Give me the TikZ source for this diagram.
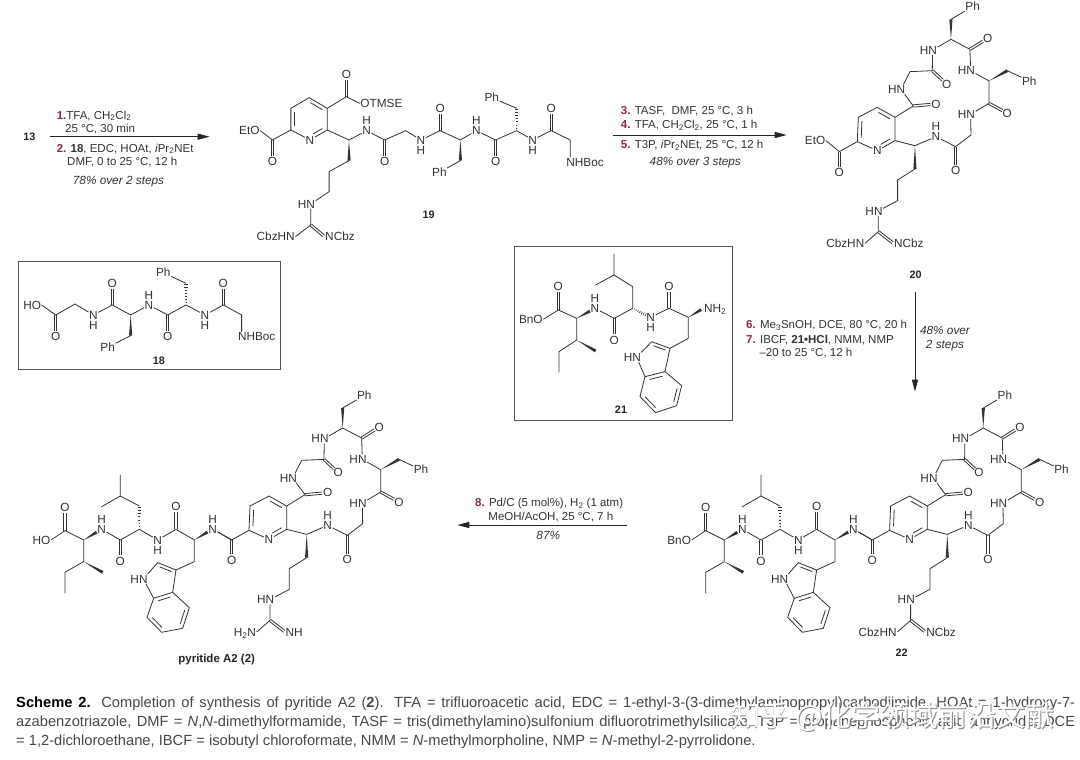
\documentclass[tikz,border=0pt]{standalone}
\usepackage{fontspec}
\setmainfont{Liberation Sans}
\newfontfamily\cjk{Noto Sans CJK SC}
\usepackage{tikz}
\usetikzlibrary{arrows.meta}
\usetikzlibrary{calc}
\definecolor{bondcol}{HTML}{333333}
\definecolor{boxcol}{HTML}{555555}
\definecolor{stepcol}{HTML}{8A2B4B}
\definecolor{capcol}{HTML}{484848}
\tikzstyle{bond} = [draw=bondcol, line width=0.8pt]
\tikzstyle{atom} = [font=\fontsize{11.8}{13}\selectfont, text=bondcol, inner sep=0.5pt, text height=8.4pt, text depth=0pt]
\tikzstyle{molname} = [font=\fontsize{10.8}{12}\selectfont\bfseries, text=black!85]
\tikzstyle{cond} = [font=\fontsize{11.5}{13}\selectfont, text=bondcol, inner sep=0pt, text height=8.2pt, text depth=0pt]
\tikzstyle{condit} = [cond, font=\fontsize{11.8}{13}\selectfont\itshape]
\tikzstyle{rxnarrow} = [draw=black!85, line width=0.9pt, -{Triangle[length=12pt,width=6pt]}]
\tikzstyle{frame} = [draw=boxcol, line width=1pt]
\tikzstyle{captext} = [font=\fontsize{14.7}{16}\selectfont, text=capcol, inner sep=0pt, anchor=west]
\newcommand{\stepno}[1]{{\color{stepcol}\textbf{#1}}}
% wedge: narrow at #2, wide at a fraction #1 of the way to #3
\newcommand{\wedgeb}[3][1]{\fill[bondcol] (#2) -- ($($(#2)!#1!(#3)$)!1.6pt!90:(#2)$) -- ($($(#2)!#1!(#3)$)!1.6pt!-90:(#2)$) -- cycle;}
\newcommand{\hashb}[3][1]{\foreach \hh in {0.12,0.26,...,0.96}{
	\pgfmathsetmacro{\hw}{0.3+1.5*\hh}
	\coordinate (hp) at ($(#2)!\hh*#1!(#3)$);
	\draw[bondcol, line width=0.6pt] ($(hp)!\hw pt!90:(#3)$) -- ($(hp)!\hw pt!-90:(#3)$);
}}
% two parallel lines from #2 up to a gap #1 before #3
\newcommand{\dblb}[3][5.6pt]{
	\coordinate (dbe) at ($(#3)!#1!(#2)$);
	\draw[bond] ($(#2)!1.15pt!90:(dbe)$) -- ($(dbe)!1.15pt!-90:(#2)$);
	\draw[bond] ($(#2)!1.15pt!-90:(dbe)$) -- ($(dbe)!1.15pt!90:(#2)$);
}
% inner line of a ring double bond, pulled towards the ring centre #4
\newcommand{\innerb}[4][1.5pt]{\draw[bond, shorten <=#1, shorten >=1.5pt] ($(#2)!0.2!(#4)$) -- ($(#3)!0.2!(#4)$);}
% N with its H on the left, above or below
\newcommand{\nhl}[3]{\node[atom] (#1) at (#2,#3) {N}; \node[atom] (#1h) at ([xshift=-8.6pt]#1) {H};}
\newcommand{\nhu}[3]{\node[atom] (#1) at (#2,#3) {N}; \node[atom] (#1h) at ([yshift=10pt]#1) {H};}
\newcommand{\nhd}[3]{\node[atom] (#1) at (#2,#3) {N}; \node[atom] (#1h) at ([yshift=-10pt]#1) {H};}
% ------------------- Pyridine + macrocycle + side chain ------------------- %
\newcommand{\cyclocore}[5]{
	\begin{scope}[shift={(#2,#3)}, x=0.3333pt, y=-0.3333pt, name prefix=#1-]
	\coordinate (c3) at (885,352);
	\coordinate (c2) at (885,422);
	\node[atom] (n) at (832,452) {N};
	\coordinate (c6) at (772,425);
	\coordinate (c5) at (775,352);
	\coordinate (c4) at (832,322);
	\coordinate (rc) at (830,387);
	\draw[bond] (c2) -- (c3) -- (c4) -- (c5) -- (c6) -- (n) -- (c2);
	\innerb{c3}{c4}{rc}
	\innerb{c5}{c6}{rc}
	\innerb[4pt]{n}{c2}{rc}

	\coordinate (am) at (940,318);
	\node[atom] (oa) at (1008,312) {O};
	\nhl{n1}{903}{268}
	\coordinate (ca) at (930,215);
	\coordinate (cb) at (997,212);
	\node[atom] (ob) at (1040,252) {O};
	\nhl{n2}{998}{150}
	\coordinate (ab) at (1053,118);
	\coordinate (pb) at (1053,58);
	\node[atom] (phb) at (1118,20) {Ph};
	\coordinate (cc) at (1110,148);
	\node[atom] (oc) at (1163,115) {O};
	\nhl{n3}{1112}{212}
	\coordinate (ac) at (1167,243);
	\coordinate (pc) at (1222,212);
	\node[atom] (phc) at (1288,243) {Ph};
	\coordinate (cd) at (1167,310);
	\node[atom] (od) at (1222,340) {O};
	\nhl{n4}{1112}{343}
	\coordinate (ce) at (1113,405);
	\coordinate (cf) at (1067,440);
	\node[atom] (of) at (1067,512) {O};
	\nhu{n5}{1008}{410}
	\coordinate (ad) at (945,437);
	\draw[bond] (c3) -- (am) -- (n1) -- (ca) -- (cb) -- (n2) -- (ab) -- (cc) -- (n3) -- (ac) -- (cd) -- (n4) -- (ce) -- (cf) -- (n5) -- (ad) -- (c2);
	\dblb{am}{oa}
	\dblb{cb}{ob}
	\dblb{cc}{oc}
	\dblb{cd}{od}
	\dblb{cf}{of}
	\wedgeb{ab}{pb}
	\draw[bond] (pb) -- (phb);
	\wedgeb{ac}{pc}
	\draw[bond] (pc) -- (phc);

	\coordinate (s1) at (945,507);
	\coordinate (s2) at (893,540);
	\coordinate (s3) at (893,602);
	\nhl{n6}{835}{633}
	\coordinate (gc) at (835,695);
	\node[atom, anchor=east] (gl) at (795,730) {#4};
	\node[atom, anchor=west] (gr) at (880,730) {#5};
	\wedgeb{ad}{s1}
	\draw[bond] (s1) -- (s2) -- (s3) -- (n6) -- (gc) -- (gl.east);
	\dblb[1pt]{gc}{gr.west}
	\end{scope}
}
% ------------------- Ile-Leu-Trp arm ------------------- %
\newcommand{\lefttail}[4]{
	\begin{scope}[shift={(#2,#3)}, x=0.3333pt, y=-0.3333pt, name prefix=#1-]
	\coordinate (ec) at (197,452);
	\node[atom] (eo) at (197,382) {O};
	\node[atom, anchor=east] (lo) at (155,480) {#4};
	\coordinate (a1) at (253,480);
	\nhu{ln1}{307}{448}
	\coordinate (be) at (253,545);
	\coordinate (me) at (310,577);
	\coordinate (et) at (197,577);
	\coordinate (ch) at (197,640);
	\coordinate (lc1) at (363,480);
	\node[atom] (lo1) at (363,543) {O};
	\coordinate (a2) at (420,448);
	\coordinate (lb) at (420,378);
	\coordinate (lc) at (363,348);
	\coordinate (lm1) at (363,285);
	\coordinate (lm2) at (307,380);
	\nhd{ln2}{475}{480}
	\coordinate (lc2) at (530,448);
	\node[atom] (lo2) at (530,380) {O};
	\coordinate (a3) at (585,480);
	\nhu{ln3}{640}{447}
	\coordinate (tb) at (585,545);
	\coordinate (i3) at (530,570);
	\coordinate (i2) at (475,548);
	\nhl{ni}{432}{597}
	\coordinate (i7a) at (463,655);
	\coordinate (i3a) at (520,637);
	\coordinate (i4) at (570,683);
	\coordinate (i5) at (550,745);
	\coordinate (i6) at (487,757);
	\coordinate (i7) at (443,712);
	\coordinate (ir5) at (484,603);
	\coordinate (ir6) at (507,700);
	\coordinate (amc) at (697,480);
	\node[atom] (amo) at (697,540) {O};
	\draw[bond] (lo.east) -- (ec) -- (a1) -- (be) -- (et) -- (ch);
	\dblb{ec}{eo}
	\wedgeb[0.72]{a1}{ln1}
	\wedgeb{be}{me}
	\draw[bond] (ln1) -- (lc1) -- (a2) -- (ln2) -- (lc2) -- (a3) -- (tb) -- (i3) -- (i2) -- (ni) -- (i7a) -- (i3a) -- (i3);
	\dblb{lc1}{lo1}
	\dblb{lc2}{lo2}
	\hashb{a2}{lb}
	\draw[bond] (lb) -- (lc) -- (lm1);
	\draw[bond] (lc) -- (lm2);
	\wedgeb[0.72]{a3}{ln3}
	\draw[bond] (ln3) -- (amc);
	\dblb{amc}{amo}
	\draw[bond] (i3a) -- (i4) -- (i5) -- (i6) -- (i7) -- (i7a);
	\innerb{i3}{i2}{ir5}
	\innerb{i7a}{i3a}{ir6}
	\innerb{i4}{i5}{ir6}
	\innerb{i6}{i7}{ir6}
	\end{scope}
}

\begin{document}
\begin{tikzpicture}[x=1pt, y=-1pt]
	\path[fill=white, use as bounding box] (0,0) rectangle (1080,760);

	% ------------------- Compound 19 ------------------- %
	\begin{scope}[x=0.3827pt, y=-0.3333pt, name prefix=m19-]
	\coordinate (c3) at (855,325);
	\coordinate (c2) at (855,390);
	\node[atom] (n) at (810,420) {N};
	\coordinate (c6) at (760,390);
	\coordinate (c5) at (760,325);
	\coordinate (c4) at (808,293);
	\coordinate (rc) at (808,357);
	\draw[bond] (c2) -- (c3) -- (c4) -- (c5) -- (c6) -- (n) -- (c2);
	\innerb{c3}{c4}{rc}
	\innerb{c5}{c6}{rc}
	\innerb[4pt]{n}{c2}{rc}
	\coordinate (tc) at (905,290);
	\node[atom] (to) at (905,222) {O};
	\node[atom, anchor=west] (otms) at (940,310) {OTMSE};
	\draw[bond] (c3) -- (tc) -- (otms.west);
	\dblb{tc}{to}
	\coordinate (ec) at (712,420);
	\node[atom] (eo) at (712,485) {O};
	\node[atom, anchor=east] (eto) at (680,392) {EtO};
	\draw[bond] (c6) -- (ec) -- (eto.east);
	\dblb{ec}{eo}
	\coordinate (a1) at (912,420);
	\coordinate (s1) at (912,482);
	\coordinate (s2) at (860,515);
	\coordinate (s3) at (860,575);
	\nhl{n6}{812}{612}
	\coordinate (gc) at (812,675);
	\node[atom, anchor=east] (gl) at (772,710) {CbzHN};
	\node[atom, anchor=west] (gr) at (848,710) {NCbz};
	\draw[bond] (c2) -- (a1);
	\wedgeb{a1}{s1}
	\draw[bond] (s1) -- (s2) -- (s3) -- (n6) -- (gc) -- (gl.east);
	\dblb[1pt]{gc}{gr.west}
	\nhu{n1}{958}{392}
	\coordinate (c1) at (1005,420);
	\node[atom] (o1) at (1005,485) {O};
	\coordinate (g1) at (1060,392);
	\nhd{n2}{1100}{420}
	\coordinate (c2b) at (1150,392);
	\node[atom] (o2) at (1150,325) {O};
	\coordinate (a2) at (1203,420);
	\coordinate (p2) at (1203,482);
	\node[atom] (ph2) at (1148,517) {Ph};
	\nhu{n3}{1245}{392}
	\coordinate (c3b) at (1295,420);
	\node[atom] (o3) at (1295,485) {O};
	\coordinate (a3) at (1350,392);
	\coordinate (p3) at (1350,325);
	\node[atom] (ph3) at (1285,293) {Ph};
	\nhd{n4}{1392}{420}
	\coordinate (c4b) at (1440,392);
	\node[atom] (o4) at (1440,325) {O};
	\coordinate (g2) at (1490,420);
	\coordinate (g3) at (1490,470);
	\node[atom, anchor=west] (boc) at (1478,487) {NHBoc};
	\draw[bond] (a1) -- (n1) -- (c1) -- (g1) -- (n2) -- (c2b) -- (a2) -- (n3) -- (c3b) -- (a3) -- (n4) -- (c4b) -- (g2) -- (g3 |- boc.north);
	\dblb{c1}{o1}
	\dblb{c2b}{o2}
	\dblb{c3b}{o3}
	\dblb{c4b}{o4}
	\wedgeb{a2}{p2}
	\draw[bond] (p2) -- (ph2);
	\hashb{a3}{p3}
	\draw[bond] (p3) -- (ph3);
	\end{scope}

	% ------------------- Compound 18 ------------------- %
	\draw[frame] (18.3,261.7) rectangle (280,369.3);
	\begin{scope}[shift={(0,240)}, x=0.3333pt, y=-0.3333pt, name prefix=m18-]
	\node[atom, anchor=east] (ho) at (125,195) {HO};
	\coordinate (c1) at (167,225);
	\node[atom] (o1) at (167,290) {O};
	\coordinate (g1) at (225,192);
	\nhd{n1}{280}{225}
	\coordinate (c2) at (337,195);
	\node[atom] (o2) at (337,130) {O};
	\coordinate (a1) at (392,225);
	\coordinate (p1) at (392,287);
	\node[atom] (ph1) at (323,322) {Ph};
	\nhu{n2}{447}{195}
	\coordinate (c3) at (503,225);
	\node[atom] (o3) at (503,290) {O};
	\coordinate (a2) at (558,195);
	\coordinate (p2) at (558,130);
	\node[atom] (ph2) at (490,98) {Ph};
	\nhd{n3}{615}{225}
	\coordinate (c4) at (670,195);
	\node[atom] (o4) at (670,130) {O};
	\coordinate (g2) at (725,225);
	\coordinate (g3) at (725,272);
	\node[atom, anchor=west] (boc) at (712,290) {NHBoc};
	\draw[bond] (ho.east) -- (c1) -- (g1) -- (n1) -- (c2) -- (a1) -- (n2) -- (c3) -- (a2) -- (n3) -- (c4) -- (g2) -- (g3 |- boc.north);
	\dblb{c1}{o1}
	\dblb{c2}{o2}
	\dblb{c3}{o3}
	\dblb{c4}{o4}
	\wedgeb{a1}{p1}
	\draw[bond] (p1) -- (ph1);
	\hashb{a2}{p2}
	\draw[bond] (p2) -- (ph2);
	\end{scope}

	% ------------------- Compound 21 ------------------- %
	\draw[frame] (514,246) rectangle (732.3,420.7);
	\begin{scope}[shift={(505,240)}, x=0.3333pt, y=-0.3333pt, name prefix=m21-]
	\node[atom, anchor=east] (bno) at (115,238) {BnO};
	\coordinate (ec) at (160,210);
	\node[atom] (eo) at (160,140) {O};
	\coordinate (a1) at (215,235);
	\nhu{n1}{270}{205}
	\coordinate (be) at (215,300);
	\coordinate (me) at (272,333);
	\coordinate (et) at (162,335);
	\coordinate (ch) at (162,397);
	\coordinate (c1) at (328,235);
	\node[atom] (o1) at (328,300) {O};
	\coordinate (a2) at (383,205);
	\coordinate (lb) at (383,140);
	\coordinate (lc) at (327,105);
	\coordinate (lm1) at (327,42);
	\coordinate (lm2) at (272,135);
	\nhd{n2}{437}{232}
	\coordinate (c2) at (492,205);
	\node[atom] (o2) at (492,140) {O};
	\coordinate (a3) at (550,232);
	\node[atom, anchor=west] (nh2) at (595,205) {NH\textsubscript{2}};
	\coordinate (tb) at (550,295);
	\coordinate (i3) at (495,325);
	\coordinate (i2) at (440,305);
	\nhl{ni}{395}{352}
	\coordinate (i7a) at (420,410);
	\coordinate (i3a) at (480,395);
	\coordinate (i4) at (530,437);
	\coordinate (i5) at (515,497);
	\coordinate (i6) at (452,518);
	\coordinate (i7) at (405,470);
	\coordinate (ir5) at (445,358);
	\coordinate (ir6) at (467,458);
	\draw[bond] (bno.east) -- (ec) -- (a1) -- (be) -- (et) -- (ch);
	\dblb{ec}{eo}
	\wedgeb[0.72]{a1}{n1}
	\wedgeb{be}{me}
	\draw[bond] (n1) -- (c1) -- (a2) -- (lb) -- (lc) -- (lm1);
	\draw[bond] (lc) -- (lm2);
	\dblb{c1}{o1}
	\hashb[0.75]{a2}{n2}
	\draw[bond] (n2) -- (c2) -- (a3) -- (tb) -- (i3) -- (i2) -- (ni) -- (i7a) -- (i3a) -- (i3);
	\dblb{c2}{o2}
	\wedgeb[0.85]{a3}{nh2.west}
	\draw[bond] (i3a) -- (i4) -- (i5) -- (i6) -- (i7) -- (i7a);
	\innerb{i3}{i2}{ir5}
	\innerb{i7a}{i3a}{ir6}
	\innerb{i4}{i5}{ir6}
	\innerb{i6}{i7}{ir6}
	\end{scope}

	% ------------------- Compounds 20, 22 and pyritide A2 ------------------- %
	\cyclocore{m20}{600}{0}{CbzHN}{NCbz}
	\begin{scope}[shift={(600,0)}, x=0.3333pt, y=-0.3333pt, name prefix=m20-]
	\coordinate (ec) at (718,455);
	\node[atom] (eo) at (718,517) {O};
	\node[atom, anchor=east] (eto) at (678,422) {EtO};
	\draw[bond] (c6) -- (ec) -- (eto.east);
	\dblb{ec}{eo}
	\end{scope}

	\cyclocore{m22}{632.3}{388.7}{CbzHN}{NCbz}
	\lefttail{m22}{640}{380}{BnO}
	\draw[bond] (m22-ln3) -- (m22-amc) -- (m22-c6);

	\cyclocore{m2}{-8.3}{388.7}{H\textsubscript{2}N}{NH}
	\lefttail{m2}{-0.65}{380}{HO}
	\draw[bond] (m2-ln3) -- (m2-amc) -- (m2-c6);

	% ------------------- Compound numbers ------------------- %
	\node[molname] (lab13) at (29.5,136.7) {13};
	\node[molname] (lab19) at (428.6,215) {19};
	\node[molname] (lab20) at (915.7,275) {20};
	\node[molname] (lab18) at (159,360.7) {18};
	\node[molname] (lab21) at (621,409.3) {21};
	\node[molname] (lab22) at (901.7,652.7) {22};
	\node[molname, font=\fontsize{11.5}{13}\selectfont\bfseries] (lab2) at (216.7,660) {pyritide A2 (2)};

	% ------------------- Arrows + conditions ------------------- %
	\coordinate (r1s) at (49.7,136.7);
	\coordinate (r1e) at (209.7,136.7);
	\draw[rxnarrow] (r1s) -- (r1e);
	\node[cond, anchor=west] (r1a) at (56.6,115) {\stepno{1.}TFA, CH\textsubscript{2}Cl\textsubscript{2}};
	\node[cond, anchor=west] (r1b) at (65,128) {25 °C, 30 min};
	\node[cond, anchor=west] (r1c) at (56.6,148) {\stepno{2.} \textbf{18}, EDC, HOAt, \textit{i}Pr\textsubscript{2}NEt};
	\node[cond, anchor=west] (r1d) at (67,161.7) {DMF, 0 to 25 °C, 12 h};
	\node[condit, anchor=west] (r1y) at (72.7,180) {78\% over 2 steps};

	\coordinate (r2s) at (613.3,135);
	\coordinate (r2e) at (786.7,135);
	\draw[rxnarrow] (r2s) -- (r2e);
	\node[cond, anchor=west] (r2a) at (620.7,110) {\stepno{3.} TASF,\ \ DMF, 25 °C, 3 h};
	\node[cond, anchor=west] (r2b) at (620.7,124.3) {\stepno{4.} TFA, CH\textsubscript{2}Cl\textsubscript{2}, 25 °C, 1 h};
	\node[cond, anchor=west] (r2c) at (620.7,144.3) {\stepno{5.} T3P, \textit{i}Pr\textsubscript{2}NEt, 25 °C, 12 h};
	\node[condit] (r2y) at (695.3,161.7) {48\% over 3 steps};

	\coordinate (r3s) at (915,291.7);
	\coordinate (r3e) at (915,391.7);
	\draw[rxnarrow] (r3s) -- (r3e);
	\node[cond, anchor=west] (r3a) at (746,324.3) {\stepno{6.} Me\textsubscript{3}SnOH, DCE, 80 °C, 20 h};
	\node[cond, anchor=west] (r3b) at (746,339) {\stepno{7.} IBCF, \textbf{21•HCl}, NMM, NMP};
	\node[cond, anchor=west] (r3c) at (759.3,352.7) {–20 to 25 °C, 12 h};
	\node[condit] (r3y) at (945,330) {48\% over};
	\node[condit] (r3z) at (945,344) {2 steps};

	\coordinate (r4s) at (626.7,525);
	\coordinate (r4e) at (457.3,525);
	\draw[rxnarrow] (r4s) -- (r4e);
	\node[cond, anchor=west] (r4a) at (475,502.3) {\stepno{8.} Pd/C (5 mol\%), H\textsubscript{2} (1 atm)};
	\node[cond] (r4b) at (550.8,516) {MeOH/AcOH, 25 °C, 7 h};
	\node[condit] (r4y) at (548.3,535.7) {87\%};

	% ------------------- Caption ------------------- %
	\node[captext] (cap1) at (16,703.5) {\makebox[1059pt][s]{\textbf{\color{black}Scheme 2.} Completion of synthesis of pyritide A2 (\textbf{2}). TFA = trifluoroacetic acid, EDC = 1-ethyl-3-(3-dimethylaminopropyl)carbodiimide, HOAt = 1-hydroxy-7-}};
	\node[captext] (cap2) at (16,722.5) {\makebox[1059pt][s]{azabenzotriazole, DMF = \textit{N},\textit{N}-dimethylformamide, TASF = tris(dimethylamino)sulfonium difluorotrimethylsilicate, T3P = propanephosphonic acid anhydride, DCE}};
	\node[captext] (cap3) at (16,742) {= 1,2-dichloroethane, IBCF = isobutyl chloroformate, NMM = \textit{N}-methylmorpholine, NMP = \textit{N}-methyl-2-pyrrolidone.};

	% watermark
	\node[font=\cjk\fontsize{29}{32}\selectfont, text=black!45, inner sep=0pt] (wmshade) at (893.5,717.5) {知乎 @化学领域前沿文献};
	\node[font=\cjk\fontsize{29}{32}\selectfont, text=white, inner sep=0pt] (wmark) at (893,717) {知乎 @化学领域前沿文献};
\end{tikzpicture}
\end{document}
